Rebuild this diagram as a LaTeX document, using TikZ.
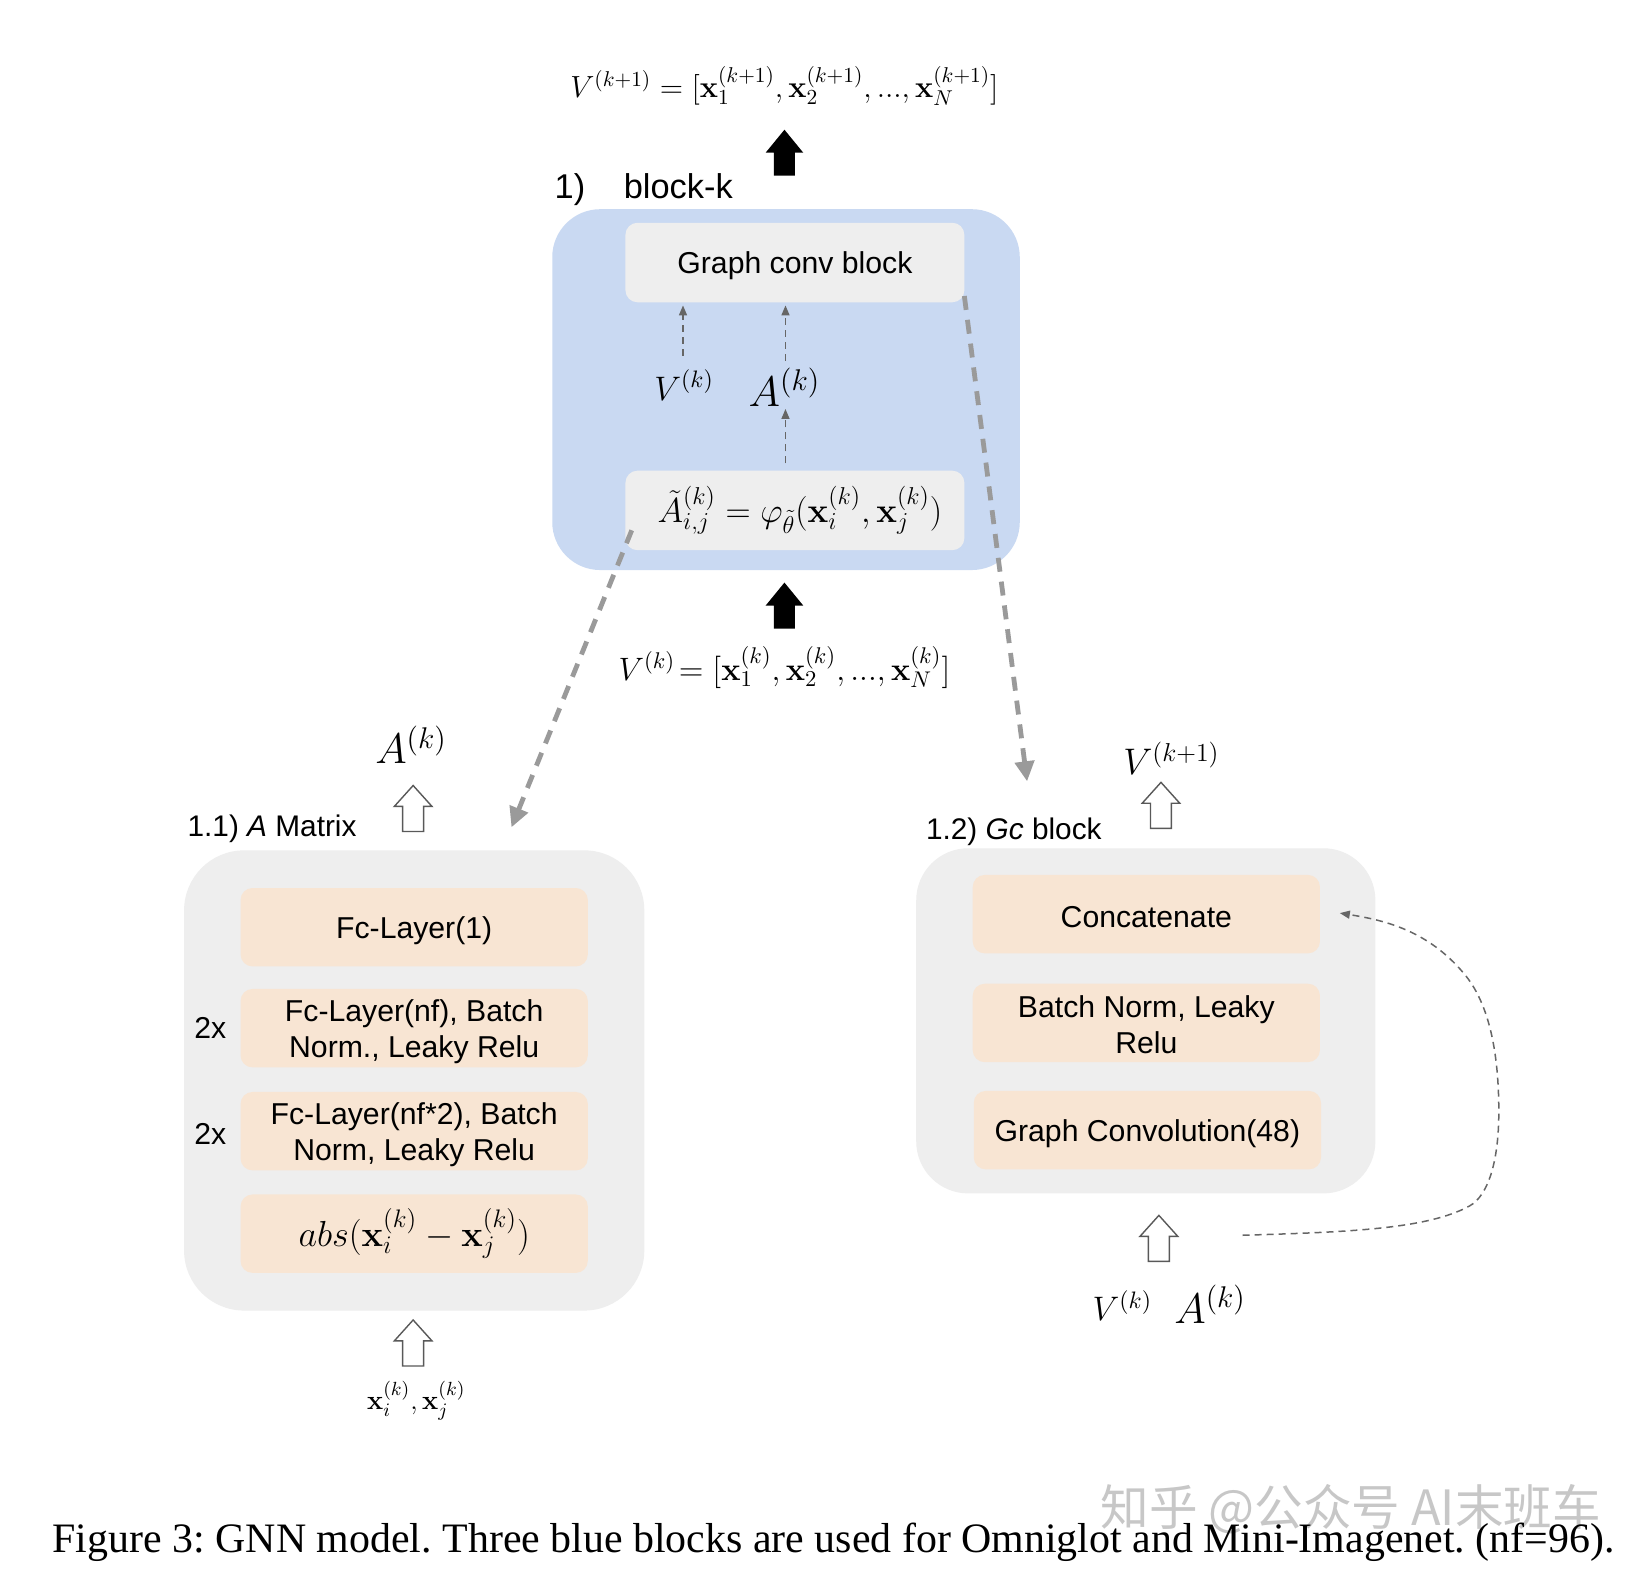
\documentclass[tikz,border=0pt]{standalone}
\IfFileExists{fix-cm.sty}{\usepackage{fix-cm}}{}
\usepackage[no-math]{fontspec}
\usetikzlibrary{arrows.meta}
\newfontfamily\arialf{Liberation Sans}
\newfontfamily\capf{Liberation Serif}
\newfontfamily\cjkf{Noto Sans CJK SC}
\definecolor{blockblue}{HTML}{C9D9F2}
\definecolor{panelgray}{HTML}{EEEEEE}
\definecolor{peach}{HTML}{F8E5D3}
\definecolor{dashgray}{HTML}{666666}
\definecolor{thickgray}{HTML}{9A9A9A}
\newcommand{\vx}{\mathbf{x}}
\newcommand{\lowr}{\rule{0pt}{14.5pt}}
\newcommand{\lowq}{\rule{0pt}{13pt}}
\def\uu{0.523pt}
\tikzset{
  x=0.523pt, y=-0.523pt,
  blockbox/.style={fill=blockblue, rounded corners=24pt, inner sep=0pt},
  panel/.style={fill=panelgray, rounded corners=#1, inner sep=0pt},
  grayinner/.style={fill=panelgray, rounded corners=6pt, inner sep=0pt, minimum width=324*\uu, minimum height=76*\uu, font=\arialf\fontsize{15.1}{18}\selectfont},
  peachbox/.style={fill=peach, rounded corners=6pt, inner sep=0pt, minimum width=332*\uu, minimum height=75*\uu, align=center, font=\arialf\fontsize{15.1}{17.8}\selectfont},
  lbl/.style={inner sep=0pt, font=\arialf\fontsize{15.1}{18}\selectfont},
  lblbig/.style={inner sep=0pt, anchor=base west, font=\arialf\fontsize{17.2}{20}\selectfont},
  lblsmall/.style={inner sep=0pt, anchor=west, font=\arialf\fontsize{14.9}{18}\selectfont},
  mathv/.style={inner sep=0pt, font=\fontsize{17}{20}\selectfont},
  matha/.style={inner sep=0pt, font=\fontsize{21.4}{24}\selectfont},
  thindash/.style={draw=dashgray, line width=0.75pt, dash pattern=on 3.5pt off 2.5pt, -{Triangle[width=4pt,length=5pt]}},
  thickdash/.style={draw=thickgray, line width=2.4pt, dash pattern=on 7pt off 5pt, -{Triangle[width=9.5pt,length=10pt]}},
  pics/solidup/.style={code={
    \fill[black] (0,0) -- (18,22) -- (10,22) -- (10,44) -- (-10,44) -- (-10,22) -- (-18,22) -- cycle;}},
  pics/openup/.style={code={
    \draw[fill=white, draw=black!65, line width=0.7pt] (0,0) -- (18,20) -- (10,20) -- (10,44) -- (-10,44) -- (-10,20) -- (-18,20) -- cycle;}},
}
\begin{document}
\begin{tikzpicture}
\useasboundingbox[fill=white] (0,0) rectangle (1568,1505);

% main block
\node[blockbox, minimum width=447*\uu, minimum height=345*\uu] (block) at (751.5,372.5) {};
\node[grayinner] (gconv) at (760,251) {\lowr Graph conv block};
\node[grayinner, font=\fontsize{17.4}{20}\selectfont] (atilde) at (760,488) {\hspace{5pt}$\tilde{A}^{(k)}_{i,j}=\varphi_{\tilde{\theta}}(\vx^{(k)}_i,\vx^{(k)}_j)$};
\node[lblbig] (l1) at (530,190) {1)};
\node[lblbig] (lblock) at (596,190) {block-k};
\node[mathv] (vk) at (654,368) {$V^{(k)}$};
\node[matha] (ak) at (750,370) {$A^{(k)}$};
\node[inner sep=0pt, font=\fontsize{15.3}{18}\selectfont] (vtop) at (750,82) {$V^{(k+1)}=[\vx^{(k+1)}_1,\vx^{(k+1)}_2,...,\vx^{(k+1)}_N]$};
\node[inner sep=0pt, font=\fontsize{16.2}{18}\selectfont] (vbot) at (750,638) {$V^{(k)}\!=[\vx^{(k)}_1,\vx^{(k)}_2,...,\vx^{(k)}_N]$};
\pic at (750,124) {solidup};
\pic at (750,557) {solidup};

\coordinate (a1) at (653,292); \coordinate (a1s) at (653,340);
\coordinate (a2) at (751,292); \coordinate (a2s) at (751,345);
\coordinate (a3) at (751,391); \coordinate (a3s) at (751,443);
\draw[thindash] (a1s) -- (a1);
\draw[thindash] (a2s) -- (a2);
\draw[thindash] (a3s) -- (a3);

% left panel
\node[panel=30pt, minimum width=440*\uu, minimum height=440*\uu] (left) at (396,1033) {};
\node[peachbox] (f1) at (396,886.5) {\lowr Fc-Layer(1)};
\node[peachbox] (f2) at (396,983) {\lowr Fc-Layer(nf), Batch\\Norm., Leaky Relu};
\node[peachbox] (f3) at (396,1081.5) {\lowr Fc-Layer(nf*2), Batch\\Norm, Leaky Relu};
\node[peachbox, font=\fontsize{18.1}{20}\selectfont] (f4) at (396,1179.5) {$abs(\vx^{(k)}_i-\vx^{(k)}_j)$};
\node[lbl] (x1) at (201,983) {2x};
\node[lbl] (x2) at (201,1084) {2x};
\node[lblsmall] (l11) at (179,792) {1.1) \textit{A} Matrix};
\node[matha] (aout) at (393,712) {$A^{(k)}$};
\node[inner sep=0pt, font=\fontsize{13.6}{16}\selectfont] (xin) at (398,1339) {$\vx^{(k)}_i,\vx^{(k)}_j$};
\pic at (395,751) {openup};
\pic at (395,1262) {openup};

% right panel
\node[panel=26pt, minimum width=439*\uu, minimum height=330*\uu] (right) at (1095.5,976) {};
\node[peachbox] (g1) at (1096,874) {\lowq Concatenate};
\node[peachbox] (g2) at (1096,978) {\lowq Batch Norm, Leaky\\Relu};
\node[peachbox] (g3) at (1097,1080.5) {\lowr Graph Convolution(48)};
\node[lblsmall] (l12) at (885,795) {1.2) \textit{Gc} block};
\node[inner sep=0pt, font=\fontsize{18.5}{20}\selectfont] (vout) at (1120,725) {$V^{(k+1)}$};
\node[mathv] (vin) at (1073,1248) {$V^{(k)}$};
\node[matha] (ain) at (1157,1247) {$A^{(k)}$};
\pic at (1110,748) {openup};
\pic at (1108,1162) {openup};

% connectors
\coordinate (rs) at (922,283);
\coordinate (re) at (982,747);
\coordinate (ls) at (604,507);
\coordinate (le) at (489,791);
\draw[thickdash] (rs) -- (re);
\draw[thickdash] (ls) -- (le);

\coordinate (cs) at (1188,1181);
\coordinate (ce) at (1281,873);
\draw[thindash] (cs) .. controls (1290,1178) and (1365,1175) .. (1405,1153)
  .. controls (1423,1143) and (1433,1110) .. (1433,1063)
  .. controls (1433,1010) and (1425,960) .. (1399,930)
  .. controls (1365,890) and (1325,880) .. (ce);

% watermark and caption
\node[inner sep=0pt, anchor=west, text=black!22, font=\cjkf\fontsize{24.3}{28}\selectfont] (wm) at (1052,1443) {知乎 @公众号 AI末班车};
\node[inner sep=0pt, anchor=west, font=\capf\fontsize{20.95}{24}\selectfont] (cap) at (50,1475) {\frenchspacing Figure 3: GNN model. Three blue blocks are used for Omniglot and Mini-Imagenet. (nf=96).};
\end{tikzpicture}
\end{document}
